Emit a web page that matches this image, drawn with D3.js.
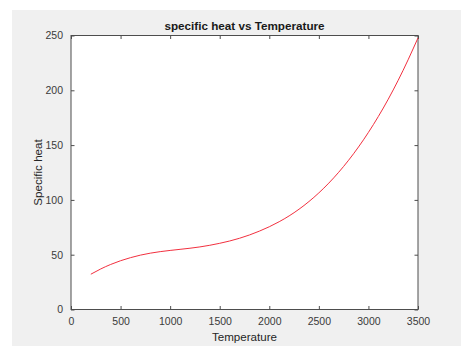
<!DOCTYPE html>
<html><head><meta charset="utf-8">
<script src="https://cdn.jsdelivr.net/npm/d3@7"></script>
<style>html,body{margin:0;padding:0;background:#fff;}</style>
</head><body>
<svg id="c" width="474" height="357"></svg>
<script>
const temperature = [200,300,400,500,600,700,800,900,1000,1100,1200,1300,1400,1500,1600,1700,1800,1900,2000,2100,2200,2300,2400,2500,2600,2700,2800,2900,3000,3100,3200,3300,3400,3500];
const specificHeat = [32.2,37.0,41.1,44.5,47.3,49.6,51.4,52.8,53.9,54.9,55.9,57.1,58.6,60.4,62.5,65.0,68.0,71.5,75.5,80.1,85.4,91.5,98.5,106.4,115.3,125.2,136.2,148.3,161.6,176.1,191.9,209.1,227.8,247.8];
const xTicks = [0,500,1000,1500,2000,2500,3000,3500];
const yTicks = [0,50,100,150,200,250];
const titleText = "specific heat vs Temperature";
const xLabel = "Temperature";
const yLabel = "Specific heat";

const svg = d3.select("#c");
const font = "'Liberation Sans', Arial, sans-serif";
svg.append("rect").attr("x",12).attr("y",10).attr("width",449).attr("height",336).attr("fill","#f0f0f0");

const L=71, R=418, T=35.5, B=309.5;
const x = d3.scaleLinear().domain([0,3500]).range([L,R]);
const y = d3.scaleLinear().domain([0,250]).range([B,T]);
svg.append("rect").attr("x",L).attr("y",T).attr("width",R-L).attr("height",B-T).attr("fill","#fff");

const axCol = "#4d4d4d";
function style(g){
  g.select(".domain").remove();
  g.selectAll("line").attr("stroke",axCol);
  g.selectAll("text").attr("fill","#3a3a3a").style("font-family",font).style("font-size","10.5px");
}
svg.append("g").attr("transform",`translate(0,${B})`).call(d3.axisBottom(x).tickValues(xTicks).tickSizeInner(-3.5).tickSizeOuter(0).tickPadding(8).tickFormat(d3.format("d"))).call(style);
svg.append("g").attr("transform",`translate(0,${T})`).call(d3.axisTop(x).tickValues(xTicks).tickSizeInner(-3.5).tickSizeOuter(0).tickFormat("")).call(style);
svg.append("g").attr("transform",`translate(${L},0)`).call(d3.axisLeft(y).tickValues(yTicks).tickSizeInner(-3.5).tickSizeOuter(0).tickPadding(8).tickFormat(d3.format("d"))).call(style);
svg.append("g").attr("transform",`translate(${R},0)`).call(d3.axisRight(y).tickValues(yTicks).tickSizeInner(-3.5).tickSizeOuter(0).tickFormat("")).call(style);
svg.append("rect").attr("x",L).attr("y",T).attr("width",R-L).attr("height",B-T).attr("fill","none").attr("stroke",axCol).attr("stroke-width",1);

const line = d3.line().x((d,i)=>x(temperature[i])).y(d=>y(d)).curve(d3.curveNatural);
svg.append("path").datum(specificHeat).attr("d",line).attr("fill","none").attr("stroke","#f2303f").attr("stroke-width",1);

svg.append("text").attr("x",(L+R)/2).attr("y",30).attr("text-anchor","middle").style("font-family",font).style("font-size","11.7px").style("font-weight","bold").attr("fill","#1a1a1a").text(titleText);
svg.append("text").attr("x",(L+R)/2).attr("y",340.5).attr("text-anchor","middle").style("font-family",font).style("font-size","11.6px").attr("fill","#262626").text(xLabel);
svg.append("text").attr("transform",`translate(42,${(T+B)/2}) rotate(-90)`).attr("text-anchor","middle").style("font-family",font).style("font-size","11.6px").attr("fill","#262626").text(yLabel);
</script>
</body></html>
